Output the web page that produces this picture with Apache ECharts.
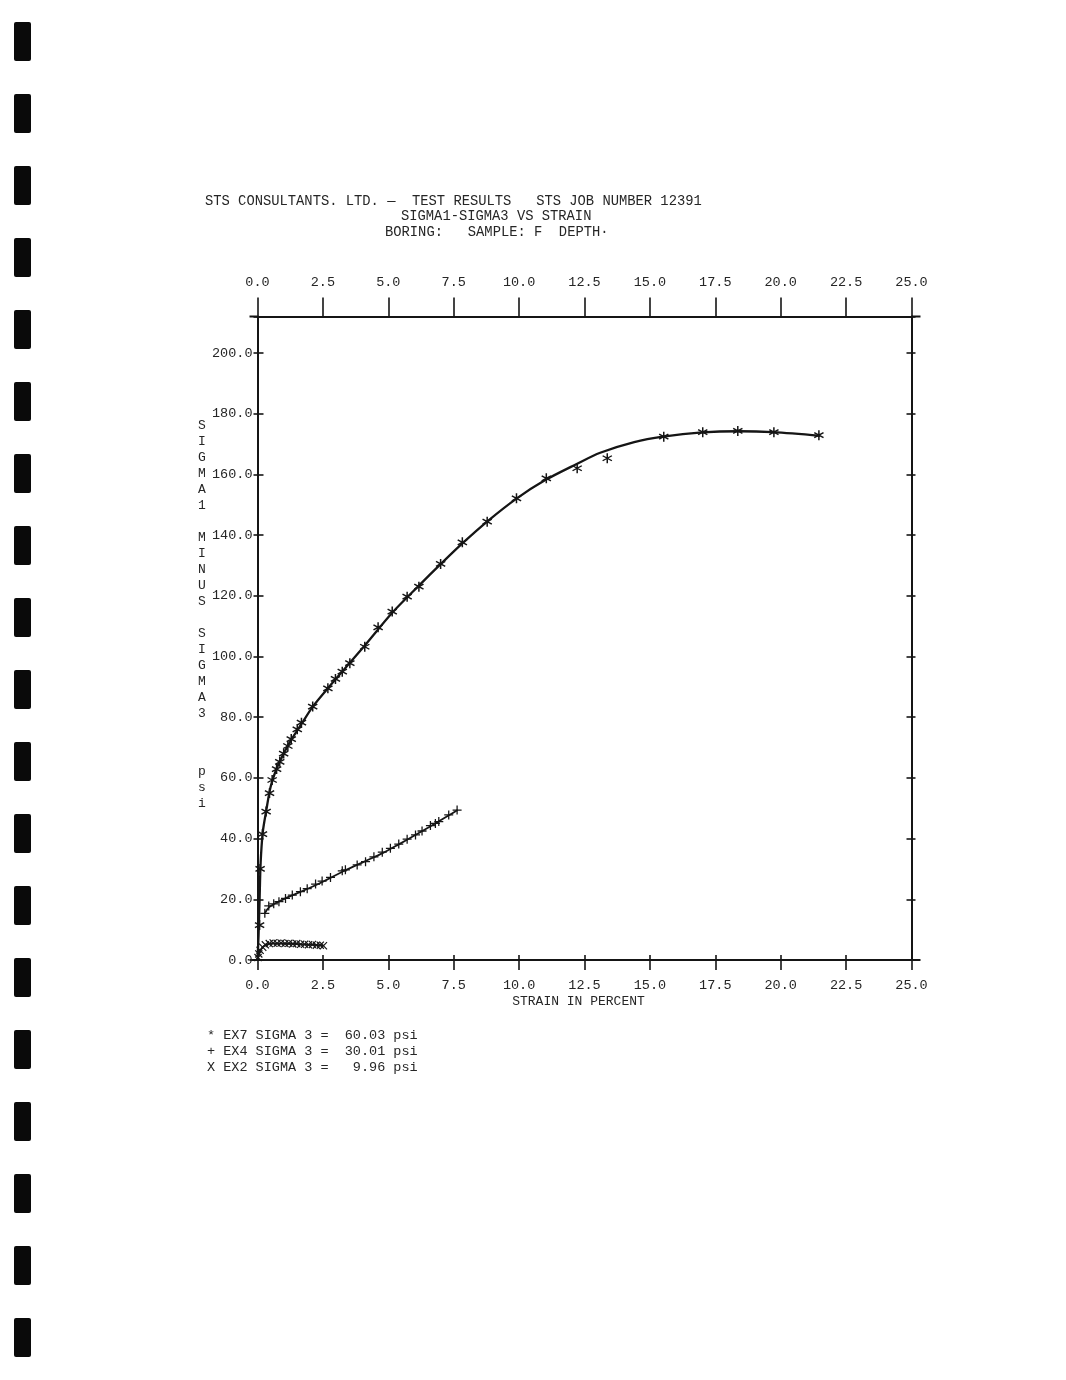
<!DOCTYPE html>
<html><head><meta charset="utf-8">
<script src="https://cdn.jsdelivr.net/npm/echarts@6/dist/echarts.min.js"></script>
<style>html,body{margin:0;padding:0;background:#fff}#c{width:1066px;height:1380px}</style>
</head><body><div id="c"></div>
<script>
// ---- data ----
const ex7Points = [[0.08,11.5],[0.1,30],[0.19,41.5],[0.33,48.9],[0.46,55],[0.56,59.3],[0.73,62.9],[0.85,65.3],[1.0,68],[1.16,70.5],[1.29,72.8],[1.52,76],[1.68,78.2],[2.11,83.5],[2.69,89.5],[2.98,92.6],[3.24,95],[3.53,97.8],[4.1,103.2],[4.61,109.6],[5.15,114.8],[5.72,119.7],[6.17,123],[7.0,130.5],[7.83,137.6],[8.78,144.4],[9.9,152.1],[11.04,158.7],[12.22,162],[13.37,165.3],[15.53,172.4],[17.02,173.9],[18.36,174.3],[19.74,173.9],[21.46,172.9]];
const ex7Curve = [[0,0],[0.04,8],[0.08,20],[0.12,32],[0.2,42],[0.33,49],[0.5,57],[0.75,63.5],[1.0,68],[1.3,72.7],[1.7,78],[2.1,83.3],[2.7,89.6],[3.5,97.6],[4.1,103.6],[5.15,114.4],[6.2,123.6],[7.0,130.4],[7.85,137.4],[8.8,144.6],[9.9,152],[11.0,158.1],[12.2,163.4],[13.1,167.1],[14.4,170.6],[15.5,172.4],[17.0,173.8],[18.4,174.2],[19.7,173.9],[21.5,172.7]];
const ex4Points = [[0.28,15.4],[0.43,17.8],[0.62,18.5],[0.82,19.2],[1.07,20.3],[1.33,21.4],[1.64,22.5],[1.9,23.5],[2.22,25],[2.47,26],[2.79,27.2],[3.24,29.4],[3.36,29.7],[3.81,31.3],[4.13,32.4],[4.45,34],[4.77,35.5],[5.08,36.8],[5.4,38.2],[5.72,39.8],[6.04,41.2],[6.29,42.5],[6.61,44.3],[6.8,45],[6.93,45.6],[7.31,47.8],[7.63,49.4]];
const ex4Curve = [[0.28,15.4],[0.45,17.4],[0.8,19.2],[1.3,21.2],[1.9,23.4],[2.5,25.8],[3.3,29.3],[4.1,32.5],[4.8,35.3],[5.4,38.1],[6.0,41.0],[6.6,44],[7.3,47.6],[7.65,49.4]];
const ex2Points = [[0.02,0.8],[0.05,2],[0.1,3.2],[0.2,4.2],[0.3,5.0],[0.45,5.4],[0.6,5.6],[0.75,5.5],[0.9,5.6],[1.05,5.4],[1.2,5.5],[1.35,5.3],[1.5,5.4],[1.65,5.2],[1.8,5.2],[1.95,5.0],[2.1,5.1],[2.25,4.9],[2.4,4.9],[2.52,4.7]];
const ex2Curve = [[0,0],[0.1,3],[0.25,4.6],[0.5,5.4],[1,5.4],[1.5,5.3],[2,5.05],[2.52,4.8]];

const titleLines = ["STS CONSULTANTS. LTD. \u2014  TEST RESULTS   STS JOB NUMBER 12391", "SIGMA1-SIGMA3 VS STRAIN", "BORING:   SAMPLE: F  DEPTH\u00b7"];
const yAxisTitle = "SIGMA1 MINUS SIGMA3";
const yAxisUnit = "psi";
const xAxisTitle = "STRAIN IN PERCENT";
const legendLines = ["* EX7 SIGMA 3 =  60.03 psi", "+ EX4 SIGMA 3 =  30.01 psi", "X EX2 SIGMA 3 =   9.96 psi"];
const xMin = 0, xMax = 25, xStep = 2.5;
const yMin = 0, yMax = 212, yStep = 20;

// ---- styling ----
const INK = '#151515', TXT = '#262626';
const FONT = "'Liberation Mono', 'DejaVu Sans Mono', monospace";
const G = {left: 257.5, right: 911.5, top: 316.5, bottom: 960};
const STAR = 'path://M8.6,0H11.4V20H8.6Z M17.96,3.79L19.36,6.21L2.04,16.21L0.64,13.79Z M0.64,6.21L2.04,3.79L19.36,13.79L17.96,16.21Z';
const PLUS = 'path://M8.6,0H11.4V8.6H20V11.4H11.4V20H8.6V11.4H0V8.6H8.6Z';
const CROSS = 'path://M0,2.1L2.1,0L10,7.9L17.9,0L20,2.1L12.1,10L20,17.9L17.9,20L10,12.1L2.1,20L0,17.9L7.9,10Z';

const chart = echarts.init(document.getElementById('c'), null, {renderer: 'canvas'});
const fmt1 = v => Number(v).toFixed(1);
const lbl = {fontFamily: FONT, fontSize: 13.5, color: TXT};

function xAx(pos, tickLen, margin, inside, showLine, showLabel) {
  return {type: 'value', position: pos, min: xMin, max: xMax, interval: xStep,
    axisLine: {show: showLine, onZero: false, lineStyle: {color: INK, width: 2}},
    axisTick: {show: true, inside: inside, length: tickLen, lineStyle: {color: INK, width: 1.6}},
    axisLabel: Object.assign({show: showLabel, formatter: fmt1, margin: margin}, lbl),
    splitLine: {show: false}};
}
function yAx(pos, tickLen, inside, showLine, showLabel) {
  return {type: 'value', position: pos, min: yMin, max: yMax, interval: yStep,
    axisLine: {show: showLine, onZero: false, lineStyle: {color: INK, width: 2}},
    axisTick: {show: true, inside: inside, length: tickLen, lineStyle: {color: INK, width: 1.6}},
    axisLabel: Object.assign({show: showLabel, formatter: fmt1, margin: 5, showMaxLabel: false, padding: [0, 0, 7, 0]}, lbl),
    splitLine: {show: false}};
}

const graphics = [];
// binder hole marks on the scanned page
for (let i = 0; i < 19; i++) {
  graphics.push({type: 'rect', shape: {x: 14, y: 22 + 72 * i, width: 17, height: 39, r: 2}, style: {fill: '#0a0a0a'}, silent: true});
}
const titleX = [205, 401, 385], titleY = [201, 216.5, 232];
titleLines.forEach((t, i) => graphics.push({type: 'text', x: titleX[i], y: titleY[i],
  style: {text: t, font: '13.8px ' + FONT, fill: TXT, textAlign: 'left', textVerticalAlign: 'middle'}}));
graphics.push({type: 'text', x: 202, y: 418, style: {text: yAxisTitle.split('').join('\n'), font: '13px ' + FONT, fill: TXT, textAlign: 'center', textVerticalAlign: 'top', lineHeight: 16}});
graphics.push({type: 'text', x: 202, y: 764, style: {text: yAxisUnit.split('').join('\n'), font: '13px ' + FONT, fill: TXT, textAlign: 'center', textVerticalAlign: 'top', lineHeight: 16}});
graphics.push({type: 'text', x: 578.5, y: 1002, style: {text: xAxisTitle, font: '13px ' + FONT, fill: TXT, textAlign: 'center', textVerticalAlign: 'middle'}});
legendLines.forEach((t, i) => graphics.push({type: 'text', x: 207, y: 1035 + i * 16,
  style: {text: t, font: '13.5px ' + FONT, fill: TXT, textAlign: 'left', textVerticalAlign: 'middle'}}));
// frame overhangs
[[G.left - 8, G.top, G.left, G.top], [G.right, G.top, G.right + 9, G.top], [G.left - 8, G.bottom, G.left, G.bottom], [G.right, G.bottom, G.right + 9, G.bottom]].forEach(l =>
  graphics.push({type: 'line', shape: {x1: l[0], y1: l[1], x2: l[2], y2: l[3]}, style: {stroke: INK, lineWidth: 2}, silent: true}));

function curve(data, w) {
  return {type: 'line', data: data, xAxisIndex: 0, yAxisIndex: 0, showSymbol: false, symbol: 'none',
    smooth: 0.3, lineStyle: {color: INK, width: w}, silent: true};
}
function marks(data, sym, size) {
  return {type: 'scatter', data: data, xAxisIndex: 0, yAxisIndex: 0, symbol: sym, symbolSize: size,
    itemStyle: {color: INK, opacity: 1}, silent: true};
}

chart.setOption({
  animation: false,
  backgroundColor: '#ffffff',
  grid: {left: G.left, right: 1066 - G.right, top: G.top, bottom: 1380 - G.bottom, outerBoundsMode: 'none', containLabel: false},
  xAxis: [xAx('bottom', 10, 18, false, true, true), xAx('top', 19, 27, false, true, true),
          xAx('bottom', 5, 0, true, false, false)],
  yAxis: [yAx('left', 6, true, true, true), yAx('right', 5, true, true, false),
          yAx('left', 4, false, false, false), yAx('right', 4, false, false, false)],
  graphic: graphics,
  series: [
    curve(ex7Curve, 2.3), curve(ex4Curve, 1.8), curve(ex2Curve, 2),
    marks(ex7Points, STAR, 10), marks(ex4Points, PLUS, 9), marks(ex2Points, CROSS, 8)
  ]
});
</script></body></html>
